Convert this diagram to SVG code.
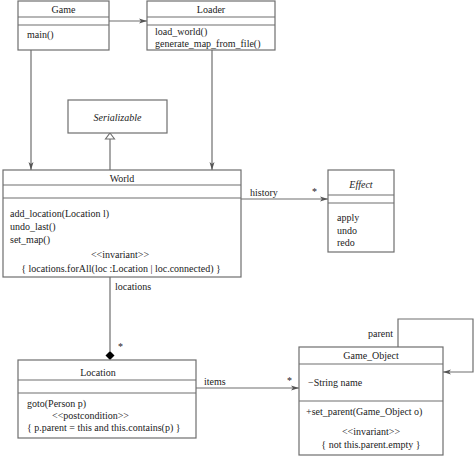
<svg xmlns="http://www.w3.org/2000/svg" width="474" height="457" viewBox="0 0 474 457">
<style>
.box{fill:#fff;stroke:#6e6e6e;stroke-width:1.2}
.div{stroke:#6e6e6e;stroke-width:1.2;fill:none}
.t{font-family:"Liberation Serif","Times New Roman",serif;font-size:10px;fill:#222}
.c{text-anchor:middle}
.i{font-style:italic}
.ln{fill:none;stroke:#6e6e6e;stroke-width:1.2}
</style>
<defs>
<marker id="arr" markerUnits="userSpaceOnUse" markerWidth="10" markerHeight="8" refX="8" refY="3" orient="auto">
<path d="M0,0.5 L8,3 L0,5.5 L2,3 z" fill="#555"/>
</marker>
</defs>
<rect width="474" height="457" fill="#fff"/>
<g id="connectors">
<path class="ln" d="M109,21 H147" marker-end="url(#arr)"/>
<path class="ln" d="M31,50 V170" marker-end="url(#arr)"/>
<path class="ln" d="M212,50 V170" marker-end="url(#arr)"/>
<path class="ln" d="M110,170 V139"/>
<polygon points="110,133 114.5,139 105.5,139" fill="#fff" stroke="#6e6e6e" stroke-width="1.1"/>
<path class="ln" d="M241,199 H328" marker-end="url(#arr)"/>
<text class="t" x="250" y="195.5">history</text>
<text class="t" x="312" y="195">*</text>
<path class="ln" d="M110,277 V351"/>
<polygon points="110,351 114.5,355.5 110,360 105.5,355.5" fill="#000"/>
<text class="t" x="115" y="289.5">locations</text>
<text class="t" x="118" y="350">*</text>
<path class="ln" d="M196,388 H299" marker-end="url(#arr)"/>
<text class="t" x="204" y="384.5">items</text>
<text class="t" x="287" y="384">*</text>
<path class="ln" d="M398,347 V319 H473 V372 H443" marker-end="url(#arr)"/>
<text class="t" x="393" y="336.5" text-anchor="end">parent</text>
</g>
<g id="Game">
<rect class="box" x="18" y="1" width="91" height="49"/>
<path class="div" d="M18,17 H109 M18,25 H109"/>
<text class="t c" x="63.5" y="12.5">Game</text>
<text class="t" x="27" y="37.5">main()</text>
</g>
<g id="Loader">
<rect class="box" x="147" y="1" width="128" height="49"/>
<path class="div" d="M147,17 H275 M147,25 H275"/>
<text class="t c" x="211" y="12.5">Loader</text>
<text class="t" x="155" y="34.5">load_world()</text>
<text class="t" x="155" y="46.5">generate_map_from_file()</text>
</g>
<g id="Serializable">
<rect class="box" x="68" y="100" width="99" height="33"/>
<text class="t c i" x="117.5" y="120.5">Serializable</text>
</g>
<g id="World">
<rect class="box" x="3" y="170" width="238" height="107"/>
<path class="div" d="M3,185 H241 M3,198 H241"/>
<text class="t c" x="122" y="181.5">World</text>
<text class="t" x="10" y="216.5">add_location(Location l)</text>
<text class="t" x="10" y="229.5">undo_last()</text>
<text class="t" x="10" y="242.5">set_map()</text>
<text class="t c" x="120" y="257.5">&lt;&lt;invariant&gt;&gt;</text>
<text class="t c" x="121" y="271.5">{ locations.forAll(loc :Location | loc.connected) }</text>
</g>
<g id="Effect">
<rect class="box" x="328" y="170" width="66" height="82"/>
<path class="div" d="M328,195 H394 M328,203 H394"/>
<text class="t c i" x="361" y="187.5">Effect</text>
<text class="t" x="337" y="220.5">apply</text>
<text class="t" x="337" y="233.5">undo</text>
<text class="t" x="337" y="245.5">redo</text>
</g>
<g id="Location">
<rect class="box" x="18" y="360" width="178" height="78"/>
<path class="div" d="M18,380 H196 M18,393 H196"/>
<text class="t c" x="98" y="375.5">Location</text>
<text class="t" x="27" y="406.5">goto(Person p)</text>
<text class="t" x="52" y="418.5">&lt;&lt;postcondition&gt;&gt;</text>
<text class="t" x="27" y="430.5">{ p.parent = this and this.contains(p) }</text>
</g>
<g id="Game_Object">
<rect class="box" x="299" y="347" width="144" height="108"/>
<path class="div" d="M299,364 H443 M299,401 H443"/>
<text class="t c" x="371" y="358.5">Game_Object</text>
<text class="t" x="308" y="385.5">−String name</text>
<text class="t" x="306" y="414.5">+set_parent(Game_Object o)</text>
<text class="t c" x="371" y="434.5">&lt;&lt;invariant&gt;&gt;</text>
<text class="t c" x="371" y="447.5">{ not this.parent.empty }</text>
</g>
</svg>
